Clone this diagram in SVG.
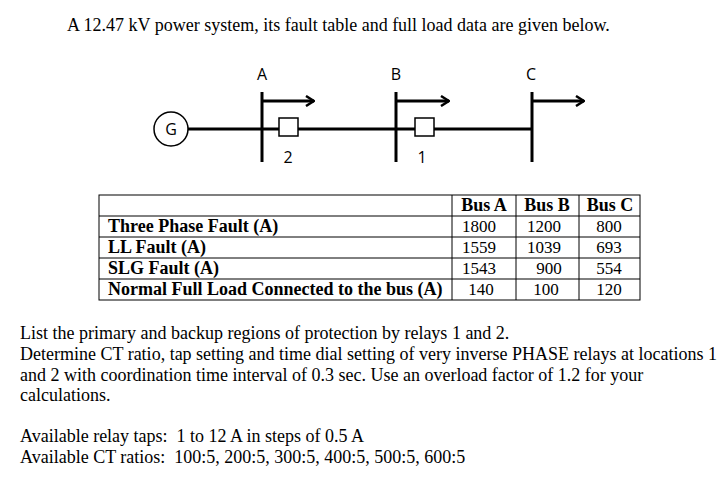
<svg xmlns="http://www.w3.org/2000/svg" width="725" height="500" viewBox="0 0 725 500">
<style>
.t{font-family:"Liberation Serif",serif;font-size:17px;fill:#000}
.tb{font-size:18px}
.b{font-weight:bold}
.s{font-family:"Open Sans","Liberation Sans",sans-serif;font-size:16px;fill:#000}
.ln{stroke:#000;stroke-width:3;fill:none}
.cell{stroke:#000;stroke-width:1;fill:none}
</style>
<defs><marker id="ah" markerWidth="10" markerHeight="12" refX="9" refY="6" orient="auto" markerUnits="userSpaceOnUse"><path d="M1,1 L9,6 L1,11" fill="none" stroke="#000" stroke-width="2.5"/></marker></defs>
<rect width="725" height="500" fill="#fff"/>
<text class="t" x="67" y="31" style="font-size:18px">A 12.47 kV power system, its fault table and full load data are given below.</text>
<g id="G"><circle cx="171" cy="129" r="17" fill="#fff" stroke="#000" stroke-width="1.5"/><text class="s" x="171" y="135" text-anchor="middle">G</text></g>
<g id="connectors">
<line class="ln" x1="188" y1="129" x2="532" y2="129" stroke-width="2.5"/>
<line class="ln" x1="262" y1="101" x2="314" y2="101" marker-end="url(#ah)" stroke-width="2.5"/>
<line class="ln" x1="396" y1="101" x2="449" y2="101" marker-end="url(#ah)" stroke-width="2.5"/>
<line class="ln" x1="532" y1="101" x2="584" y2="101" marker-end="url(#ah)" stroke-width="2.5"/>
</g>
<g id="busA"><line class="ln" x1="262" y1="92" x2="262" y2="162"/><text class="s" x="262" y="80" text-anchor="middle">A</text></g>
<g id="busB"><line class="ln" x1="396" y1="92" x2="396" y2="162"/><text class="s" x="396" y="80" text-anchor="middle">B</text></g>
<g id="busC"><line class="ln" x1="532" y1="92" x2="532" y2="162"/><text class="s" x="531" y="80" text-anchor="middle">C</text></g>
<g id="relay2"><rect x="279" y="118" width="19" height="18" fill="#fff" stroke="#000" stroke-width="1.5"/><text class="s" x="288" y="163" text-anchor="middle">2</text></g>
<g id="relay1"><rect x="415" y="118" width="19" height="18" fill="#fff" stroke="#000" stroke-width="1.5"/><text class="s" x="422" y="163" text-anchor="middle">1</text></g>
<g id="table">
<rect class="cell" x="99" y="195" width="541" height="105"/>
<line class="cell" x1="99" y1="216" x2="640" y2="216"/>
<line class="cell" x1="99" y1="237" x2="640" y2="237"/>
<line class="cell" x1="99" y1="258" x2="640" y2="258"/>
<line class="cell" x1="99" y1="279" x2="640" y2="279"/>
<line class="cell" x1="452" y1="195" x2="452" y2="300"/>
<line class="cell" x1="516" y1="195" x2="516" y2="300"/>
<line class="cell" x1="579" y1="195" x2="579" y2="300"/>
<g class="t b tb"><text x="484" y="211" text-anchor="middle">Bus A</text><text x="547" y="211" text-anchor="middle">Bus B</text><text x="610" y="211" text-anchor="middle">Bus C</text>
<text x="108" y="232">Three Phase Fault (A)</text><text x="108" y="253">LL Fault (A)</text><text x="108" y="274">SLG Fault (A)</text><text x="108" y="295">Normal Full Load Connected to the bus (A)</text></g>
<g class="t" text-anchor="middle">
<text x="479" y="232">1800</text><text x="544" y="232">1200</text><text x="609" y="232">800</text>
<text x="479" y="253">1559</text><text x="544" y="253">1039</text><text x="609" y="253">693</text>
<text x="479" y="274">1543</text><text x="549" y="274">900</text><text x="609" y="274">554</text>
<text x="481" y="295">140</text><text x="546" y="295">100</text><text x="609" y="295">120</text></g>
</g>
<g class="t" style="font-size:18px">
<text x="20" y="339">List the primary and backup regions of protection by relays 1 and 2.</text>
<text x="20" y="360">Determine CT ratio, tap setting and time dial setting of very inverse PHASE relays at locations 1</text>
<text x="20" y="381">and 2 with coordination time interval of 0.3 sec. Use an overload factor of 1.2 for your</text>
<text x="20" y="401">calculations.</text>
<text x="20" y="442">Available relay taps:&#160; 1 to 12 A in steps of 0.5 A</text>
<text x="20" y="463">Available CT ratios:&#160; 100:5, 200:5, 300:5, 400:5, 500:5, 600:5</text>
</g>
</svg>
